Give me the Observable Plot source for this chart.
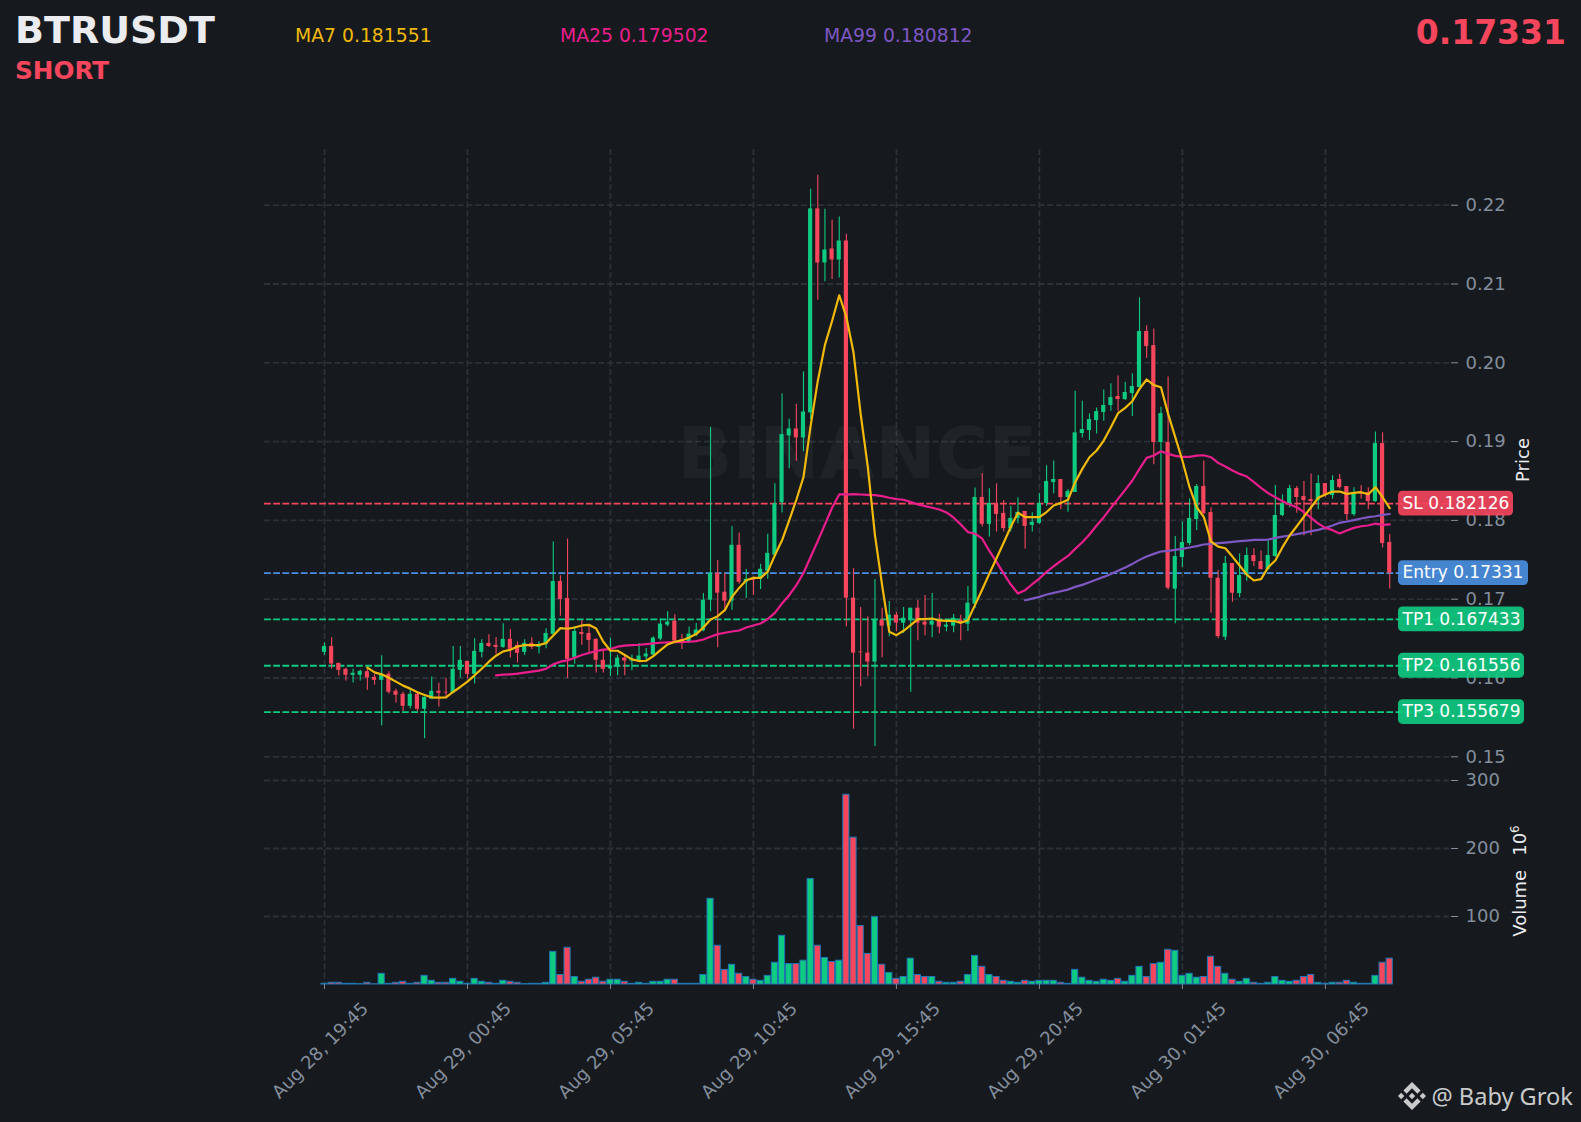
<!DOCTYPE html>
<html><head><meta charset="utf-8">
<script src="https://cdn.jsdelivr.net/npm/d3@7"></script>
<script src="https://cdn.jsdelivr.net/npm/@observablehq/plot@0.6"></script>
<style>
html,body{margin:0;padding:0;background:#161A1E;width:1581px;height:1122px;overflow:hidden;font-family:"DejaVu Sans",sans-serif}
#stage{position:relative;width:1581px;height:1122px}
#stage>svg,#stage>figure{position:absolute;left:0;top:0;margin:0}
.h{position:absolute;white-space:nowrap;line-height:1;transform:translateY(-50%)}
</style></head><body>
<div id="stage">
<div class="h" style="left:15px;top:30px;font-size:38px;font-weight:700;color:#EAECEF">BTRUSDT</div>
<div class="h" style="left:15px;top:71px;font-size:24.7px;font-weight:700;color:#F6465D">SHORT</div>
<div class="h" style="left:295px;top:36px;font-size:18.8px;color:#F0B90B">MA7 0.181551</div>
<div class="h" style="left:560px;top:36px;font-size:18.8px;color:#E91E8C">MA25 0.179502</div>
<div class="h" style="left:824px;top:36px;font-size:18.8px;color:#7E57C2">MA99 0.180812</div>
<div class="h" style="right:15px;top:32px;font-size:33px;font-weight:700;color:#F6465D">0.17331</div>
<svg style="left:1398px;top:1082px" width="28" height="28" viewBox="0 0 126.61 126.61"><path fill="#C9CACB" d="M38.73 53.2l24.59-24.58 24.6 24.6 14.3-14.31L63.32 0 24.42 38.9zM0 63.31l14.3-14.31 14.31 14.31-14.31 14.3zM38.73 73.41l24.59 24.59 24.6-24.6 14.31 14.29-38.9 38.91-38.91-38.88zM98 63.31l14.3-14.31 14.31 14.3-14.31 14.32zM77.83 63.3L63.32 48.78 52.59 59.51l-1.24 1.23-2.54 2.54 14.51 14.5 14.51-14.47z"/></svg>
<div class="h" style="left:1431.5px;top:1097px;font-size:23.6px;font-family:'Noto Sans',sans-serif;color:#C9CACB">@ Baby Grok</div>
</div>
<script>
const opens=[.16325,.164,.16186,.1611,.16034,.16034,.1608,.16008,.1597,.16046,.15831,.15793,.15641,.15793,.15603,.1573,.15831,.15819,.15806,.16097,.16211,.16046,.16325,.16439,.16414,.16388,.1649,.16414,.16325,.16439,.16388,.16426,.16553,.17224,.17009,.16262,.16578,.16565,.1649,.16224,.16114,.16139,.16253,.16215,.16215,.16266,.16291,.16494,.16671,.16721,.16489,.16451,.16548,.16599,.16987,.17329,.17089,.16975,.17684,.17215,.17253,.17253,.17354,.17557,.18224,.19072,.19161,.19047,.19364,.21953,.21267,.21445,.21305,.21546,.17013,.16329,.16316,.16202,.16734,.16658,.16797,.16696,.16734,.16886,.16709,.16671,.16721,.16646,.16658,.16734,.16683,.16937,.18291,.1795,.18215,.18089,.17895,.18025,.18114,.17937,.17962,.18215,.1848,.18519,.1829,.18354,.19102,.1914,.19267,.19369,.19458,.19572,.19534,.1961,.19686,.20397,.20219,.18988,.18988,.17127,.17529,.17706,.18011,.1843,.181,.17266,.16518,.17453,.17072,.173,.17554,.17478,.17376,.17541,.18062,.18201,.18404,.18303,.18265,.18252,.18468,.18316,.18519,.1843,.18074,.18354,.18354,.18239,.18975,.1772];
const closes=[.164,.16177,.16097,.16034,.16059,.16084,.16,.1597,.16042,.15819,.15781,.15641,.15793,.15603,.15755,.15831,.15806,.1581,.1611,.16224,.16046,.16338,.16439,.164,.16388,.1649,.16363,.16312,.16439,.16388,.16426,.16565,.17224,.16996,.16236,.16591,.16553,.16477,.16224,.1611,.16152,.16253,.16215,.16228,.16278,.16304,.16506,.16684,.16709,.16468,.16472,.16557,.16608,.16987,.17329,.17076,.16975,.17684,.17215,.17253,.17241,.1738,.17582,.18211,.19089,.19161,.19047,.19376,.21953,.21267,.21432,.21305,.21546,.17013,.16316,.1632,.16202,.16734,.16658,.16797,.16696,.16759,.16886,.16696,.16671,.16721,.16646,.16671,.16759,.16692,.16949,.18291,.1795,.18215,.18076,.17895,.18025,.18101,.17924,.17975,.18215,.18494,.18519,.1829,.18366,.19111,.19153,.1928,.19381,.19458,.19559,.19534,.19623,.19699,.20397,.20206,.18988,.19356,.1714,.17541,.17719,.18024,.1843,.18087,.17266,.16526,.17453,.17076,.173,.17554,.17478,.17376,.17554,.18062,.1821,.18404,.1829,.18252,.18239,.18468,.18316,.18506,.18417,.18074,.18354,.18337,.18239,.18975,.17706,.17331];
const highs=[.16443,.16511,.16186,.16127,.1611,.16097,.16118,.16042,.16283,.1608,.15857,.15819,.15865,.15819,.15759,.16013,.15932,.15992,.164,.164,.16211,.16498,.16485,.16549,.16515,.16688,.16612,.1646,.16485,.16511,.1646,.16625,.17726,.17296,.17764,.16654,.1673,.16667,.16498,.16363,.16502,.16291,.16291,.16291,.16439,.16375,.16523,.16751,.1684,.16802,.16553,.16646,.16692,.17072,.19182,.1749,.17325,.17924,.1784,.17376,.17283,.17443,.17823,.18464,.19604,.19283,.19474,.19884,.22202,.2238,.21948,.21809,.21851,.21631,.17388,.16895,.16776,.17249,.16886,.1697,.16831,.16895,.16886,.16983,.17046,.17072,.1681,.16743,.16806,.16797,.1716,.1841,.18591,.18401,.18464,.18253,.18177,.18287,.18114,.18097,.18338,.18692,.18755,.18519,.18392,.1964,.19513,.19352,.19428,.19656,.19733,.19834,.19754,.1986,.20824,.20469,.2043,.19436,.19821,.17795,.17981,.18273,.18455,.18755,.18159,.17364,.17541,.17453,.17575,.17651,.17639,.17613,.17744,.18442,.18324,.18442,.1843,.18493,.1859,.18569,.18468,.18565,.18582,.1843,.18413,.18442,.18413,.19123,.19111,.1782];
const lows=[.16287,.16114,.16025,.15962,.15937,.15962,.15844,.15911,.15392,.15797,.15684,.15574,.15608,.15574,.15228,.1573,.15633,.15759,.15806,.16,.15987,.15924,.16253,.16388,.163,.16376,.16253,.1619,.16287,.16363,.16304,.16371,.16519,.16785,.15992,.16173,.16414,.16325,.16063,.16063,.16017,.1603,.1603,.16093,.16207,.16207,.16278,.16472,.1665,.16439,.16363,.16439,.16523,.16586,.1684,.16384,.16861,.16861,.1719,.17008,.17051,.17122,.17253,.17536,.18093,.18654,.18751,.18873,.1928,.20794,.2103,.21056,.21077,.1665,.1535,.1589,.16017,.15131,.16257,.16523,.16586,.16565,.15818,.16473,.16536,.1651,.16561,.16586,.16574,.16473,.16591,.16882,.17916,.17789,.17852,.17852,.17852,.17958,.17637,.17852,.1795,.18177,.18337,.18134,.18104,.18354,.19047,.19013,.19098,.19259,.19386,.19386,.19521,.19318,.19669,.20058,.18705,.1821,.17118,.16687,.17406,.17681,.17871,.1807,.16822,.16497,.16475,.16962,.17017,.17228,.17415,.17372,.17372,.17533,.18049,.18159,.18091,.17804,.17804,.18134,.18294,.18269,.184,.17998,.18049,.18273,.18138,.1823,.17651,.1713];
const volumes=[1,2.5,2.5,1,1,.5,2.5,.3,15.7,1,2.5,4,1,2.5,12.7,5.4,2.5,2.5,8.3,4,1,8.3,4,2.5,1,5.4,4,2.5,.5,1,1,2.5,48,14,54,11,4,7,10,4,7,7,4,1,2.5,1,4,4,7,7,1,1,1,14,126,57,21.5,29,15.7,11,7,5.4,12.7,32,71.6,30,30,35,155,57,39,33,35,279,216,86,45,99,29,17,8.3,11,38,14,11,11,4,2.5,2.5,4,14,42,26,14,11,5.4,4,2.5,5.4,4,5.4,5.4,5.4,2.5,1,21.5,10,5.4,4,7,5.4,8.3,4,12.7,26,11,30,32,51,49.5,12.7,15.7,10,11,40.7,26,15.7,7,4,8.3,2.5,1,2.5,11,5.4,4,5.4,11,14,2.5,1,2.5,2.5,5.4,2.5,1,1,12.7,32,38];
const ma7Start=6;
const ma7=[.16131,.16072,.16046,.16004,.15954,.15903,.15865,.15819,.15785,.15755,.15751,.15755,.15823,.15886,.15954,.16034,.16118,.16207,.16283,.16338,.16359,.164,.16418,.16418,.16418,.16443,.1654,.16633,.16625,.16641,.16667,.16675,.16629,.1646,.16346,.16346,.16291,.16236,.16215,.16219,.16278,.16354,.16426,.1646,.16477,.16515,.16557,.16641,.16743,.16785,.16861,.1703,.17143,.17241,.1727,.1727,.1735,.17557,.17747,.18,.18262,.18549,.192,.1977,.20227,.20531,.20857,.20582,.2013,.1935,.18675,.1781,.17177,.16586,.16544,.16599,.16671,.16747,.16747,.16755,.1673,.16726,.16726,.167,.16734,.16928,.17122,.17325,.17519,.17717,.1792,.18097,.18042,.18042,.18042,.18106,.18189,.18222,.18261,.18485,.18654,.18802,.18887,.19013,.19183,.1936,.19428,.19513,.19669,.19788,.19716,.1969,.19352,.19056,.1876,.18421,.18167,.18041,.17732,.17668,.17647,.17541,.17427,.17313,.17237,.17254,.17406,.17491,.1766,.17808,.17926,.18049,.18167,.18286,.18328,.18366,.18366,.18337,.18349,.18358,.18332,.18421,.18294,.18155];
const ma25Start=24;
const ma25=[.16034,.16042,.16046,.16055,.16068,.1608,.16093,.16118,.16173,.16207,.16224,.16257,.16291,.16317,.16342,.16359,.16367,.16397,.1641,.16418,.16422,.1643,.16439,.16447,.16451,.16456,.16456,.1646,.16468,.16489,.16523,.16557,.16574,.1659,.16603,.16641,.16667,.16692,.16747,.16827,.16945,.17051,.17177,.17333,.17536,.17739,.1795,.18161,.18329,.18329,.18334,.18329,.18325,.18321,.18308,.18287,.1827,.18262,.18232,.18203,.18182,.18161,.18139,.18101,.18034,.17949,.17852,.17831,.17768,.17612,.17473,.17325,.17186,.17072,.17114,.1719,.17262,.17346,.17418,.17485,.17549,.17639,.17723,.17821,.17935,.18041,.18159,.18273,.18387,.18506,.18654,.18794,.18823,.18878,.18844,.18819,.18806,.18806,.18823,.18827,.18802,.1873,.18684,.18633,.1859,.18557,.18485,.18413,.18345,.18294,.18244,.18201,.18167,.18104,.18032,.1796,.17905,.17876,.17833,.17871,.17905,.17926,.17935,.1796,.17943,.1795];
const ma99Start=98;
const ma99=[.16987,.17008,.1703,.17059,.1708,.17101,.17122,.17156,.17182,.17216,.1725,.17283,.17321,.1736,.17402,.17448,.17499,.17541,.17575,.17605,.17613,.17626,.17639,.17656,.17673,.17694,.17702,.17711,.17719,.17728,.17736,.17744,.17753,.17753,.17757,.17778,.17795,.17808,.17825,.17842,.17863,.1788,.17905,.17935,.17969,.17986,.18003,.18024,.18041,.18053,.1807,.18081];
const levelNames=["SL","Entry","TP1","TP2","TP3"];
const levelPrices=[0.182126,0.17331,0.167433,0.161556,0.155679];
const levelColors=["#F6465D","#4A90E2","#0ECB81","#0ECB81","#0ECB81"];
const priceTicks=[.15,.16,.17,.18,.19,.20,.21,.22];
const volumeTicks=[100,200,300];
const timeTicks=[0,20,40,60,80,100,120,140];
const timeLabels=["Aug 28, 19:45","Aug 29, 00:45","Aug 29, 05:45","Aug 29, 10:45","Aug 29, 15:45","Aug 29, 20:45","Aug 30, 01:45","Aug 30, 06:45"];

const GREEN="#0ECB81",RED="#F6465D",GRID="#2B3139",TXT="#848E9C";
const candles=opens.map((o,i)=>({i,o,c:closes[i],h:highs[i],l:lows[i],v:volumes[i],col:closes[i]>=o?GREEN:RED}));
const levels=levelNames.map((name,k)=>({name,price:levelPrices[k],color:levelColors[k]}));
const xDomain=[-8.39,157.5];
const base={width:1581,height:1122,marginLeft:264,marginRight:131,
  x:{domain:xDomain,axis:null},color:{type:"identity"},
  style:{background:"transparent",fontFamily:"DejaVu Sans",overflow:"visible"}};
const gridOpts={stroke:GRID,strokeOpacity:1,strokeWidth:1.8,strokeDasharray:"6,2.8"};

const labelWidths={SL:115,Entry:130,TP1:126,TP2:126,TP3:126};
function levelBadges(index,scales){
  const g=d3.create("svg:g");
  for(const d of levels){
    const y=scales.y(d.price);
    g.append("rect").attr("x",1398).attr("y",y-12.4).attr("width",labelWidths[d.name]).attr("height",24.8).attr("rx",4.5)
      .attr("fill",d.color).attr("fill-opacity",.9);
    g.append("text").attr("x",1402.5).attr("y",y).attr("dy","0.34em").attr("text-anchor","start").attr("fill","#fff").attr("font-size",17)
      .attr("font-family","DejaVu Sans").text(d.name+" "+d.price);
  }
  return g.node();
}
function volumeTitle(index,scales,values,dims){
  const cy=(dims.marginTop+dims.height-dims.marginBottom)/2+4;
  const cx=dims.width-dims.marginRight+76;
  const t=d3.create("svg:text").attr("transform",`translate(${cx},${cy}) rotate(-90)`)
    .attr("text-anchor","middle").attr("fill","#EAECEF").attr("font-size",18).attr("font-family","DejaVu Sans");
  t.append("tspan").text("Volume");
  t.append("tspan").attr("dx",14).text("10");
  t.append("tspan").attr("dy",-7).attr("font-size",12).text("6");
  return t.node();
}

const price=Plot.plot({...base,marginTop:149,marginBottom:352,
  y:{domain:[.14826,.22707],axis:null},
  marks:[
    Plot.gridX(timeTicks,gridOpts),
    Plot.gridY(priceTicks,gridOpts),
    Plot.text(["BINANCE"],{frameAnchor:"middle",dy:-5,fontSize:72,fontWeight:"bold",fill:"#fff",fillOpacity:.04}),
    Plot.ruleY(levels,{y:"price",stroke:"color",strokeWidth:1.8,strokeDasharray:"6.8,2.4"}),
    Plot.ruleX(candles,{x:"i",y1:"l",y2:"h",stroke:"col",strokeWidth:1.1}),
    Plot.rect(candles,{x1:d=>d.i-.29,x2:d=>d.i+.29,y1:"o",y2:"c",fill:"col"}),
    Plot.line(ma99,{x:(d,k)=>k+ma99Start,y:d=>d,stroke:"#7E57C2",strokeWidth:2.2}),
    Plot.line(ma25,{x:(d,k)=>k+ma25Start,y:d=>d,stroke:"#E91E8C",strokeWidth:2.2}),
    Plot.line(ma7,{x:(d,k)=>k+ma7Start,y:d=>d,stroke:"#F0B90B",strokeWidth:2.2}),
    Plot.axisY(priceTicks,{anchor:"right",tickSize:7,tickPadding:8,fontSize:18,stroke:TXT,fill:TXT,tickFormat:d3.format(".2f"),label:null}),
    Plot.text(["Price"],{frameAnchor:"right",textAnchor:"middle",dx:73,rotate:-90,fontSize:18,fill:"#EAECEF"}),
    levelBadges
  ]});

const volume=Plot.plot({...base,marginTop:770,marginBottom:138,
  y:{domain:[0,314.7],axis:null},
  marks:[
    Plot.gridX(timeTicks,gridOpts),
    Plot.gridY(volumeTicks,gridOpts),
    Plot.rectY(candles,{x1:d=>d.i-.43,x2:d=>d.i+.43,y1:0,y2:"v",fill:"col",stroke:"#1F77B4",strokeWidth:1}),
    Plot.axisY(volumeTicks,{anchor:"right",tickSize:7,tickPadding:8,fontSize:18,stroke:TXT,fill:TXT,label:null}),
    Plot.axisX(timeTicks,{anchor:"bottom",tickSize:5,tickPadding:3,text:null,stroke:TXT,label:null}),
    Plot.text(timeTicks,{x:d=>d,text:(d,k)=>timeLabels[k],frameAnchor:"bottom",dy:70,rotate:-45,fontSize:18,fill:TXT}),
    volumeTitle
  ]});

const stage=document.getElementById("stage");
stage.prepend(volume);
stage.prepend(price);
</script>
</body></html>
